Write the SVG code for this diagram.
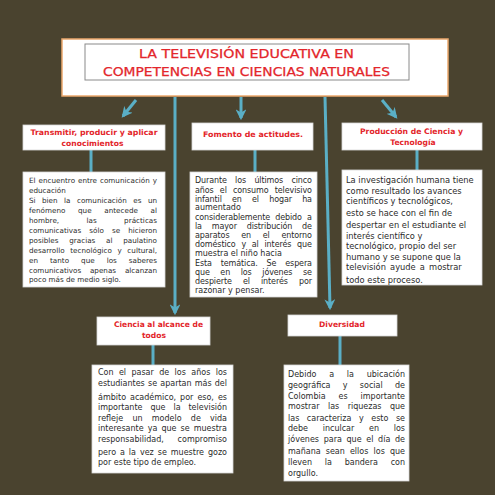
<svg xmlns="http://www.w3.org/2000/svg" width="495" height="495" viewBox="0 0 495 495">
<defs>
<style>
.bg{fill:#4a432f}
.box{fill:#ffffff;stroke:#d8d8d8;stroke-width:0.8}
.hd{font-family:"DejaVu Sans",sans-serif;font-size:7.6px;font-weight:bold;fill:#e3262b;text-anchor:middle}
.tt{font-family:"DejaVu Sans",sans-serif;font-size:11.5px;fill:#e3262b;stroke:#e3262b;stroke-width:0.25}
.tx{font-family:"DejaVu Sans",sans-serif;font-size:8px;fill:#2b2b2b}
.s1{font-size:7.2px}
.s3{font-size:8.3px}
.cn{stroke:#5aafc6;stroke-width:3;fill:none}
</style>
<marker id="ah" viewBox="0 0 10 10" refX="8" refY="5" markerWidth="3.6" markerHeight="3.6" orient="auto" markerUnits="strokeWidth">
<path d="M0,0 L10,5 L0,10 L3,5 z" fill="#5aafc6"/>
</marker>
</defs>
<rect class="bg" x="0" y="0" width="495" height="495"/>

<g id="title">
<rect x="62" y="39" width="386" height="57" fill="#ffffff" stroke="#eba86c" stroke-width="1.5"/>
<rect x="85" y="44" width="324" height="36" fill="#ffffff" stroke="#8a8a8a" stroke-width="1"/>
<text class="tt" x="139" y="58" textLength="215" lengthAdjust="spacingAndGlyphs">LA TELEVISIÓN EDUCATIVA EN</text>
<text class="tt" x="103" y="75.5" textLength="287" lengthAdjust="spacingAndGlyphs">COMPETENCIAS EN CIENCIAS NATURALES</text>
</g>

<g id="connectors">
<line class="cn" x1="136" y1="100" x2="123" y2="116" marker-end="url(#ah)"/>
<line class="cn" x1="175" y1="97" x2="175" y2="313" marker-end="url(#ah)"/>
<line class="cn" x1="241" y1="97" x2="241" y2="118" marker-end="url(#ah)"/>
<line class="cn" x1="325" y1="97" x2="330" y2="308" marker-end="url(#ah)"/>
<line class="cn" x1="382" y1="100" x2="396" y2="117" marker-end="url(#ah)"/>
<line class="cn" x1="91" y1="150" x2="91" y2="172"/>
<line class="cn" x1="255" y1="150" x2="255" y2="172"/>
<line class="cn" x1="417" y1="150" x2="417" y2="170"/>
<line class="cn" x1="153" y1="345" x2="153" y2="365"/>
<line class="cn" x1="340" y1="336" x2="340" y2="365"/>
</g>

<g id="h1">
<rect class="box" x="23" y="125" width="142" height="25"/>
<text class="hd" x="94" y="135" textLength="127" lengthAdjust="spacingAndGlyphs">Transmitir, producir y aplicar</text>
<text class="hd" x="92.5" y="146">conocimientos</text>
</g>

<g id="h2">
<rect class="box" x="192" y="123" width="121" height="27"/>
<text class="hd" x="253" y="137" textLength="100" lengthAdjust="spacingAndGlyphs">Fomento de actitudes.</text>
</g>

<g id="h3">
<rect class="box" x="342" y="123" width="140" height="27"/>
<text class="hd" x="411.5" y="134" textLength="103" lengthAdjust="spacingAndGlyphs">Producción de Ciencia y</text>
<text class="hd" x="413" y="145">Tecnología</text>
</g>

<g id="b1">
<rect class="box" x="23" y="172" width="142" height="115"/>
<text class="tx s1" x="29" y="183" style="word-spacing:0.6px" textLength="128" lengthAdjust="spacing">El encuentro entre comunicación y</text>
<text class="tx s1" x="29" y="193">educación</text>
<text class="tx s1" x="29" y="203" style="word-spacing:4.2px" textLength="128" lengthAdjust="spacing">Si bien la comunicación es un</text>
<text class="tx s1" x="29" y="213" style="word-spacing:10.4px" textLength="128" lengthAdjust="spacing">fenómeno que antecede al</text>
<text class="tx s1" x="29" y="223" style="word-spacing:25.1px" textLength="128" lengthAdjust="spacing">hombre, las prácticas</text>
<text class="tx s1" x="29" y="233" style="word-spacing:5.8px" textLength="128" lengthAdjust="spacing">comunicativas sólo se hicieron</text>
<text class="tx s1" x="29" y="243" style="word-spacing:8.5px" textLength="128" lengthAdjust="spacing">posibles gracias al paulatino</text>
<text class="tx s1" x="29" y="253" style="word-spacing:3.3px" textLength="128" lengthAdjust="spacing">desarrollo tecnológico y cultural,</text>
<text class="tx s1" x="29" y="263" style="word-spacing:9.7px" textLength="128" lengthAdjust="spacing">en tanto que los saberes</text>
<text class="tx s1" x="29" y="273" style="word-spacing:6.5px" textLength="128" lengthAdjust="spacing">comunicativos apenas alcanzan</text>
<text class="tx s1" x="29" y="282">poco más de medio siglo.</text>
</g>

<g id="b2">
<rect class="box" x="190" y="172" width="127" height="125"/>
<text class="tx" x="195" y="183" style="word-spacing:5.9px" textLength="117" lengthAdjust="spacing">Durante los últimos cinco</text>
<text class="tx" x="195" y="193" style="word-spacing:3.8px" textLength="117" lengthAdjust="spacing">años el consumo televisivo</text>
<text class="tx" x="195" y="201.5" style="word-spacing:7.8px" textLength="117" lengthAdjust="spacing">infantil en el hogar ha</text>
<text class="tx" x="195" y="210">aumentado</text>
<text class="tx" x="195" y="220" style="word-spacing:2.8px" textLength="117" lengthAdjust="spacing">considerablemente debido a</text>
<text class="tx" x="195" y="229" style="word-spacing:7.4px" textLength="117" lengthAdjust="spacing">la mayor distribución de</text>
<text class="tx" x="195" y="238" style="word-spacing:9.3px" textLength="117" lengthAdjust="spacing">aparatos en el entorno</text>
<text class="tx" x="195" y="247" style="word-spacing:3.3px" textLength="117" lengthAdjust="spacing">doméstico y al interés que</text>
<text class="tx" x="195" y="256">muestra el niño hacia</text>
<text class="tx" x="195" y="266" style="word-spacing:6.5px" textLength="117" lengthAdjust="spacing">Esta temática. Se espera</text>
<text class="tx" x="195" y="275" style="word-spacing:8.2px" textLength="117" lengthAdjust="spacing">que en los jóvenes se</text>
<text class="tx" x="195" y="284" style="word-spacing:8.6px" textLength="117" lengthAdjust="spacing">despierte el interés por</text>
<text class="tx" x="195" y="293">razonar y pensar.</text>
</g>

<g id="b3">
<rect class="box" x="342" y="170" width="140" height="115"/>
<text class="tx s3" x="346" y="183">La investigación humana tiene</text>
<text class="tx s3" x="346" y="194">como resultado los avances</text>
<text class="tx s3" x="346" y="204">científicos y tecnológicos,</text>
<text class="tx s3" x="346" y="216">esto se hace con el fin de</text>
<text class="tx s3" x="346" y="228">despertar en el estudiante el</text>
<text class="tx s3" x="346" y="239">interés científico y</text>
<text class="tx s3" x="346" y="249">tecnológico, propio del ser</text>
<text class="tx s3" x="346" y="260">humano y se supone que la</text>
<text class="tx s3" x="346" y="270" style="word-spacing:1.5px">televisión ayude a mostrar</text>
<text class="tx s3" x="346" y="283">todo este proceso.</text>
</g>

<g id="h4">
<rect class="box" x="97" y="317" width="113" height="28"/>
<text class="hd" x="158.5" y="327" textLength="89" lengthAdjust="spacingAndGlyphs">Ciencia al alcance de</text>
<text class="hd" x="154" y="338">todos</text>
</g>

<g id="h5">
<rect class="box" x="288" y="315" width="109" height="21"/>
<text class="hd" x="342" y="326.5">Diversidad</text>
</g>

<g id="b4">
<rect class="box" x="92" y="365" width="141" height="108"/>
<text class="tx" x="98" y="375" style="word-spacing:2.85px" textLength="129" lengthAdjust="spacing">Con el pasar de los años los</text>
<text class="tx" x="98" y="386" style="word-spacing:0.65px" textLength="129" lengthAdjust="spacing">estudiantes se apartan más del</text>
<text class="tx" x="98" y="400" style="word-spacing:1.45px" textLength="129" lengthAdjust="spacing">ámbito académico, por eso, es</text>
<text class="tx" x="98" y="410" style="word-spacing:5.4px" textLength="129" lengthAdjust="spacing">importante que la televisión</text>
<text class="tx" x="98" y="421" style="word-spacing:6.65px" textLength="129" lengthAdjust="spacing">refleje un modelo de vida</text>
<text class="tx" x="98" y="431" style="word-spacing:1.5px" textLength="129" lengthAdjust="spacing">interesante ya que se muestra</text>
<text class="tx" x="98" y="442" style="word-spacing:11.2px" textLength="129" lengthAdjust="spacing">responsabilidad, compromiso</text>
<text class="tx" x="98" y="455" style="word-spacing:1.37px" textLength="129" lengthAdjust="spacing">pero a la vez se muestre gozo</text>
<text class="tx" x="98" y="465">por este tipo de empleo.</text>
</g>

<g id="b5">
<rect class="box" x="284" y="365" width="125" height="116"/>
<text class="tx" x="288" y="377" style="word-spacing:10.2px" textLength="117" lengthAdjust="spacing">Debido a la ubicación</text>
<text class="tx" x="288" y="388" style="word-spacing:9.8px" textLength="117" lengthAdjust="spacing">geográfica y social de</text>
<text class="tx" x="288" y="399" style="word-spacing:10.4px" textLength="117" lengthAdjust="spacing">Colombia es importante</text>
<text class="tx" x="288" y="409" style="word-spacing:5.9px" textLength="117" lengthAdjust="spacing">mostrar las riquezas que</text>
<text class="tx" x="288" y="421" style="word-spacing:5px" textLength="117" lengthAdjust="spacing">las caracteriza y esto se</text>
<text class="tx" x="288" y="431" style="word-spacing:12.2px" textLength="117" lengthAdjust="spacing">debe inculcar en los</text>
<text class="tx" x="288" y="442" style="word-spacing:2.1px" textLength="117" lengthAdjust="spacing">jóvenes para que el día de</text>
<text class="tx" x="288" y="454" style="word-spacing:2.6px" textLength="117" lengthAdjust="spacing">mañana sean ellos los que</text>
<text class="tx" x="288" y="465" style="word-spacing:10.2px" textLength="117" lengthAdjust="spacing">lleven la bandera con</text>
<text class="tx" x="288" y="476">orgullo.</text>
</g>
</svg>
